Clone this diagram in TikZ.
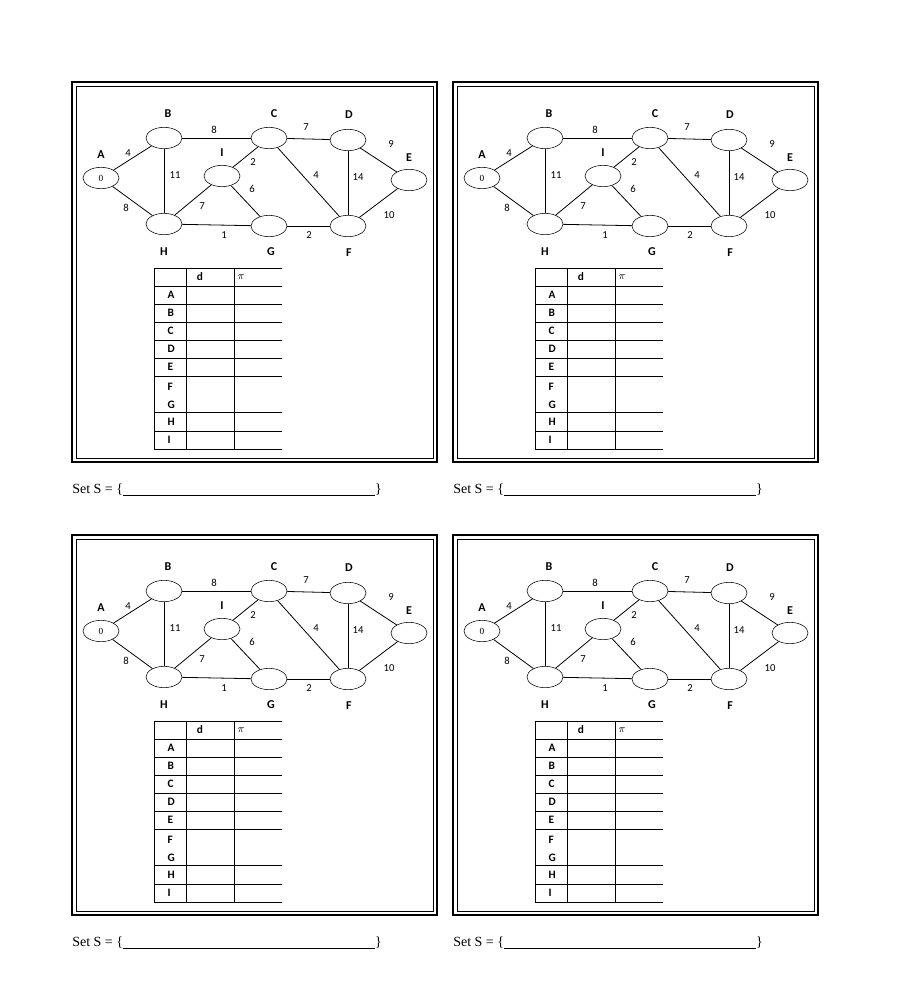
\documentclass[tikz,border=0pt]{standalone}
\usepackage{fontspec}
\setmainfont{Liberation Serif}
\newfontfamily\carl{Carlito}
\begin{document}
\begin{tikzpicture}[x=0.75pt,y=-0.75pt,
  vtx/.style={draw,ellipse,minimum width=27pt,minimum height=16pt,inner sep=0pt,font=\fontsize{7}{8}\selectfont},
  vlab/.style={font=\carl\bfseries\fontsize{9}{10}\selectfont},
  elab/.style={font=\carl\fontsize{8}{9}\selectfont},
  tlab/.style={font=\carl\bfseries\fontsize{8.5}{9}\selectfont},
  edge/.style={line width=0.6pt}]
\useasboundingbox (0,0) rectangle (912,1000);
\usetikzlibrary{shapes.geometric}
\foreach \p/\dx/\dy in {1/0/0,2/381/0,3/0/453,4/381/453}{
\begin{scope}[shift={(\dx,\dy)}]
 \draw[line width=1.2pt] (72,82) rectangle (437,462);
 \draw[line width=0.6pt] (76,86) rectangle (433,458);
 \node[vtx] (A\p) at (101,178) {0};
 \node[vtx] (B\p) at (164,138) {};
 \node[vtx] (C\p) at (269,138) {};
 \node[vtx] (D\p) at (348,140) {};
 \node[vtx] (E\p) at (409,180) {};
 \node[vtx] (I\p) at (222,176) {};
 \node[vtx] (H\p) at (164,224) {};
 \node[vtx] (G\p) at (269,226) {};
 \node[vtx] (F\p) at (348,226) {};
 \node[vlab] (la\p) at (101,155) {A};
 \node[vlab] (lb\p) at (168,114) {B};
 \node[vlab] (lc\p) at (274,114) {C};
 \node[vlab] (ld\p) at (349,115) {D};
 \node[vlab] (le\p) at (409,158) {E};
 \node[vlab] (li\p) at (222,153) {I};
 \node[vlab] (lh\p) at (164,252) {H};
 \node[vlab] (lg\p) at (271,252) {G};
 \node[vlab] (lf\p) at (349,253) {F};
 \draw[edge] (A\p)--(B\p); \draw[edge] (A\p)--(H\p); \draw[edge] (B\p)--(C\p);
 \draw[edge] (B\p)--(H\p); \draw[edge] (C\p)--(I\p); \draw[edge] (C\p)--(D\p);
 \draw[edge] (C\p)--(F\p); \draw[edge] (D\p)--(F\p); \draw[edge] (D\p)--(E\p);
 \draw[edge] (E\p)--(F\p); \draw[edge] (I\p)--(G\p); \draw[edge] (H\p)--(I\p);
 \draw[edge] (H\p)--(G\p); \draw[edge] (G\p)--(F\p);
 \node[elab] at (128,153) {4}; \node[elab] at (126,208) {8};
 \node[elab] at (214,130) {8}; \node[elab] at (175,175) {11};
 \node[elab] at (253,162) {2}; \node[elab] at (306,127) {7};
 \node[elab] at (316,175) {4}; \node[elab] at (358,177) {14};
 \node[elab] at (391,144) {9}; \node[elab] at (389,215) {10};
 \node[elab] at (252,189) {6}; \node[elab] at (202,206) {7};
 \node[elab] at (224,235) {1}; \node[elab] at (309,235) {2};
 % table
 \foreach \yy in {268,286,304,322,340,358,376,412,431,449} \draw[line width=0.6pt] (154,\yy)--(282,\yy);
 \foreach \xx in {154,186,234} \draw[line width=0.6pt] (\xx,268)--(\xx,449);
 \node[tlab] at (200,277) {d};
 \node[font=\fontsize{8}{9}\selectfont] at (241,277) {$\pi$};
 \foreach \t/\yy in {A/295,B/313,C/331,D/349,E/367,F/387,G/405,H/422,I/440}
   \node[tlab,anchor=west] at (163,\yy) {\t};
 \node[anchor=west,inner sep=0pt,font=\fontsize{10.5}{12}\selectfont] (S\p) at (72,490) {Set S = \{\rule[-1.5pt]{189pt}{0.5pt}\}};
\end{scope}}
\end{tikzpicture}
\end{document}
